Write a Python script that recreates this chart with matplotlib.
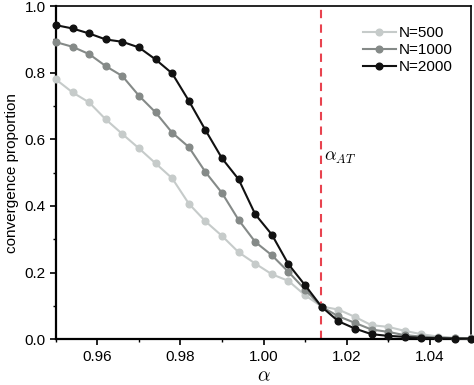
import numpy as np
import matplotlib
matplotlib.use("Agg")
import matplotlib.pyplot as plt
from matplotlib.ticker import MultipleLocator

plt.rcParams["font.family"] = ["Liberation Sans", "DejaVu Sans"]
plt.rcParams["mathtext.fontset"] = "cm"

# alpha grid (step 0.004)
alpha = [0.950, 0.954, 0.958, 0.962, 0.966, 0.970, 0.974, 0.978, 0.982,
         0.986, 0.990, 0.994, 0.998, 1.002, 1.006, 1.010, 1.014, 1.018,
         1.022, 1.026, 1.030, 1.034, 1.038, 1.042, 1.046, 1.050]

n500 = [0.780, 0.741, 0.711, 0.660, 0.616, 0.573, 0.528, 0.483, 0.407,
        0.354, 0.310, 0.261, 0.227, 0.195, 0.175, 0.132, 0.098, 0.089,
        0.067, 0.042, 0.037, 0.025, 0.015, 0.008, 0.004, 0.003]
n1000 = [0.892, 0.878, 0.856, 0.820, 0.790, 0.731, 0.681, 0.620, 0.577,
         0.502, 0.439, 0.358, 0.292, 0.252, 0.202, 0.149, 0.097, 0.069,
         0.049, 0.029, 0.022, 0.012, 0.008, 0.005, 0.003, 0.002]
n2000 = [0.943, 0.933, 0.918, 0.900, 0.893, 0.876, 0.840, 0.798, 0.716,
         0.628, 0.543, 0.480, 0.375, 0.314, 0.225, 0.162, 0.097, 0.054,
         0.032, 0.015, 0.010, 0.007, 0.004, 0.003, 0.002, 0.002]

alpha_at = 1.0138

series = [("N=500", n500, "#c6cbca"),
          ("N=1000", n1000, "#858a88"),
          ("N=2000", n2000, "#111111")]

fig = plt.figure(figsize=(4.74, 3.85), dpi=100)
ax = fig.add_axes([0.118, 0.119, 0.876, 0.865])

for label, ys, col in series:
    ax.plot(alpha, ys, "-o", color=col, lw=1.5, ms=4.8, label=label,
            clip_on=False, zorder=3)

ax.axvline(alpha_at, color="#e8434f", lw=1.5, ls=(0, (4, 3)), zorder=2)
ax.text(alpha_at + 0.0008, 0.547, r"$\alpha_{AT}$", fontsize=13,
        ha="left", va="center")

ax.set_xlim(0.95, 1.05)
ax.set_ylim(0, 1.0)
ax.xaxis.set_minor_locator(MultipleLocator(0.01))
ax.yaxis.set_major_locator(MultipleLocator(0.2))
ax.yaxis.set_minor_locator(MultipleLocator(0.1))
ax.set_xticks([0.96, 0.98, 1.00, 1.02, 1.04])
ax.set_xticklabels(["0.96", "0.98", "1.00", "1.02", "1.04"])
ax.tick_params(axis="both", which="major", direction="out", length=4,
               width=1.2, labelsize=11)
ax.tick_params(axis="both", which="minor", direction="out", length=2.5,
               width=1.0)
for sp in ax.spines.values():
    sp.set_linewidth(1.2)
ax.spines["left"].set_linewidth(1.6)
ax.spines["bottom"].set_linewidth(1.6)

ax.set_ylabel("convergence proportion", fontsize=11, labelpad=4)
ax.set_xlabel(r"$\alpha$", fontsize=14, labelpad=3)

ax.legend(loc="upper right", bbox_to_anchor=(0.955, 0.94), frameon=False,
          fontsize=11, handlelength=2.1, handletextpad=0.2,
          labelspacing=0.2, borderaxespad=0, borderpad=0)

fig.savefig("out.png", dpi=100)
